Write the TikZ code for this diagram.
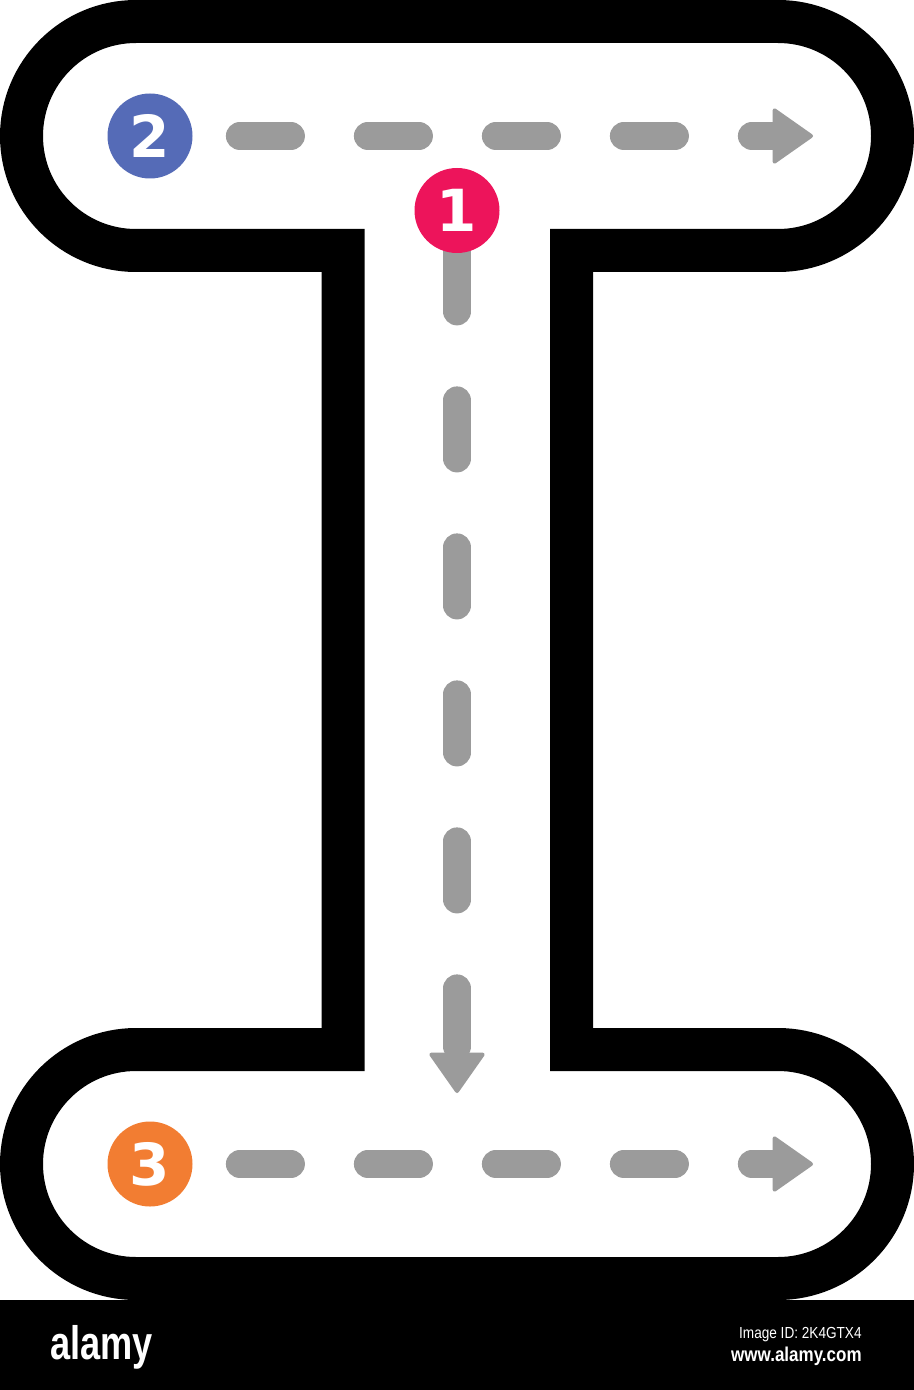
\documentclass[tikz,border=0pt]{standalone}
\usepackage{fontspec}
\usetikzlibrary{arrows.meta,backgrounds}
\newfontfamily\numfont{DejaVu Sans}
\newfontfamily\logofont[FakeStretch=0.77]{Liberation Sans}
\newfontfamily\tagfont[FakeStretch=0.85]{Liberation Sans}
\definecolor{stepblue}{RGB}{85,107,183}
\definecolor{stepred}{RGB}{237,20,91}
\definecolor{steporange}{RGB}{242,125,50}
\definecolor{pathgray}{RGB}{155,155,155}
\tikzset{
  outline/.style={draw=black, line width=21.5pt, line join=miter},
  stepdot/.style={circle, minimum size=42.5pt, inner sep=0pt, text=white,
    font=\numfont\bfseries\fontsize{29}{29}\selectfont},
  dashline/.style={draw=pathgray, line width=14pt, line cap=round,
    -{Triangle[length=21pt,width=29pt,line width=2pt,round]}},
}
\begin{document}
\begin{tikzpicture}[x=0.5pt,y=-0.5pt]
\useasboundingbox (0,0) rectangle (914,1390);
\begin{pgfonlayer}{background}
\fill[white] (0,0) rectangle (914,1390);
\end{pgfonlayer}
% the letter I
\draw[outline] (343,250.5) -- (136,250.5) arc[start angle=90,end angle=270,radius=114.5]
  -- (778,21.5) arc[start angle=-90,end angle=90,radius=114.5]
  -- (571.5,250.5) -- (571.5,1049.5) -- (778,1049.5) arc[start angle=-90,end angle=90,radius=114.5]
  -- (136,1278.5) arc[start angle=90,end angle=270,radius=114.5]
  -- (343,1049.5) -- cycle;
% steps
\node[stepdot, fill=stepred] (n1) at (457,210.5) {1};
\node[stepdot, fill=stepblue] (n2) at (150,136) {2};
\node[stepdot, fill=steporange] (n3) at (150,1164) {3};
\coordinate (e1) at (457,1093);
\coordinate (e2) at (813,136);
\coordinate (e3) at (813,1164);
\begin{pgfonlayer}{background}
\draw[dashline, dash pattern=on 29pt off 44.5pt] (n1) -- (e1);
\draw[dashline, dash pattern=on 25.5pt off 38.5pt, dash phase=40.5pt] (n2) -- (e2);
\draw[dashline, dash pattern=on 25.5pt off 38.5pt, dash phase=40.5pt] (n3) -- (e3);
\end{pgfonlayer}
% footer
\fill[black] (0,1300) rectangle (914,1390);
\node[anchor=base west, inner sep=0pt, text=white, font=\logofont\bfseries\fontsize{23.5}{23.5}\selectfont] (logo) at (50,1359) {alamy};
\node[anchor=base east, inner sep=0pt, text=white, font=\tagfont\fontsize{8}{8}\selectfont] (imgid) at (862,1338) {Image ID: 2K4GTX4};
\node[anchor=base east, inner sep=0pt, text=white, font=\tagfont\bfseries\fontsize{10}{10}\selectfont] (site) at (862,1361) {www.alamy.com};
\end{tikzpicture}
\end{document}
